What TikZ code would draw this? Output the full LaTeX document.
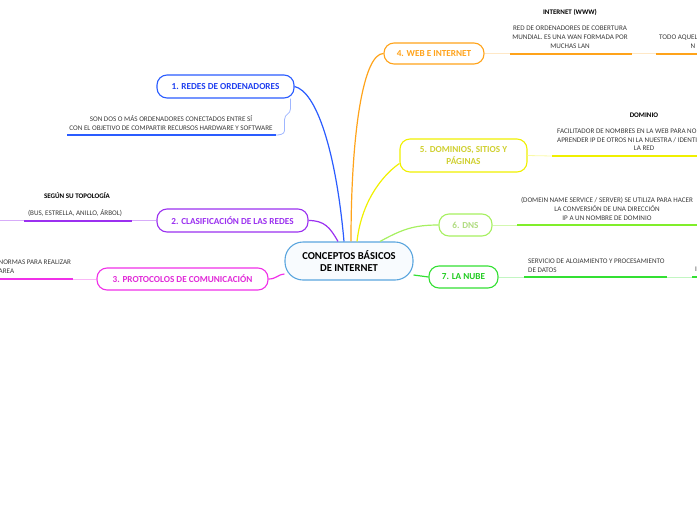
\documentclass[tikz,border=0pt]{standalone}
\usepackage{fontspec}
\setmainfont{Carlito}
\usepackage{xcolor}
\usepackage{tikz}
\definecolor{cCentro}{HTML}{5AA5DE}
\definecolor{cBlue}{HTML}{2A5CFF}
\definecolor{cBlueTxt}{HTML}{1F3FF0}
\definecolor{cPurple}{HTML}{9B30F0}
\definecolor{cMagenta}{HTML}{F030E8}
\definecolor{cMagentaTxt}{HTML}{E12AD8}
\definecolor{cOrange}{HTML}{FFA31A}
\definecolor{cYellow}{HTML}{F0F000}
\definecolor{cYellowTxt}{HTML}{D0D030}
\definecolor{cLime}{HTML}{A6F060}
\definecolor{cLimeTxt}{HTML}{B0DC80}
\definecolor{cLimeLine}{HTML}{80EE2A}
\definecolor{cGreen}{HTML}{33E033}
\definecolor{cGreenTxt}{HTML}{22CC22}
\definecolor{cNota}{HTML}{3A3A3A}

\begin{document}
\begin{tikzpicture}[x=1pt,y=-1pt,
    tema/.style={draw=#1,text=#1,line width=1.1pt,rounded corners=10pt,fill=white,
      font=\bfseries\fontsize{9.2}{11.5}\selectfont,inner sep=0pt,align=center},
    nota/.style={text=cNota,font=\fontsize{7.1}{9}\selectfont,inner sep=0pt,align=center},
    notab/.style={nota,font=\bfseries\fontsize{7}{9}\selectfont,text=black},
    rama/.style={line width=1.2pt,#1},
    fina/.style={line width=0.8pt,#1},
    linea/.style={line width=2pt,#1}]
        \useasboundingbox (0,0) rectangle (697,520);
        \node[draw=cCentro,fill=cCentro!4,line width=1.1pt,rounded corners=18pt,inner sep=0pt,align=center,
          minimum width=128pt,minimum height=38pt,font=\bfseries\fontsize{10.6}{12.5}\selectfont] (main) at (349,261) {CONCEPTOS BÁSICOS\\DE INTERNET};

        \node[tema=cBlue,text=cBlueTxt,minimum width=137pt,minimum height=23pt] (redes) at (225.5,86.5) {1. REDES DE ORDENADORES};
        \draw[rama=cBlue] ([xshift=-5pt]main.north) .. controls +(-8,-90) and +(22,5) .. (redes.east);
        \node[nota] (redesnota) at (171,123) {SON DOS O MÁS ORDENADORES CONECTADOS ENTRE SÍ\\CON EL OBJETIVO DE COMPARTIR RECURSOS HARDWARE Y SOFTWARE};
        \coordinate (redesA) at (67,135);
        \coordinate (redesB) at (276,135);
        \draw[fina=cBlue!45] ([xshift=-4pt]redes.south east) -- ++(0,10) .. controls +(0,6) and +(0,-6) .. ++(-6,11) -- ++(0,11) .. controls +(0,4) and +(3,0) .. (redesB);
        \draw[linea=cBlue] (redesA) -- (redesB);

        \node[tema=cPurple,minimum width=151pt,minimum height=23pt] (clasif) at (232.5,220.5) {2. CLASIFICACIÓN DE LAS REDES};
        \draw[rama=cPurple] ([xshift=-11pt]main.north) .. controls +(-8,-14) and +(16,0) .. (clasif.east);
        \node[notab] (topologia) at (77,196) {SEGÚN SU TOPOLOGÍA};
        \node[nota] (tipos) at (75,213) {(BUS, ESTRELLA, ANILLO, ÁRBOL)};
        \coordinate (clasifA) at (24,220.5);
        \coordinate (clasifB) at (132,220.5);
        \draw[fina=cPurple!40] (clasif.west) -- (0,220.5);
        \draw[linea=cPurple] (clasifA) -- (clasifB);

        \node[tema=cMagenta,text=cMagentaTxt,minimum width=171pt,minimum height=22pt] (protocolos) at (182.5,279) {3. PROTOCOLOS DE COMUNICACIÓN};
        \draw[rama=cMagenta] ([yshift=-13pt]main.west) .. controls +(-8,1) and +(8,0) .. (protocolos.east);
        \node[nota,anchor=west,align=left] (normas) at (-1.5,267) {NORMAS PARA REALIZAR\\AREA};
        \coordinate (protoA) at (0,279);
        \coordinate (protoB) at (73,279);
        \draw[fina=cMagenta!35] (protocolos.west) -- (protoA);
        \draw[linea=cMagenta] (protoA) -- (protoB);

        \node[tema=cOrange,minimum width=100pt,minimum height=21pt] (web) at (434,53.5) {4. WEB E INTERNET};
        \draw[rama=cOrange] ([xshift=2pt]main.north) .. controls +(0,-110) and +(-20,0) .. (web.west);
        \node[notab] (www) at (570,12) {INTERNET (WWW)};
        \node[nota] (wwwnota) at (570,37) {RED DE ORDENADORES DE COBERTURA\\MUNDIAL. ES UNA WAN FORMADA POR\\MUCHAS LAN};
        \node[nota,anchor=west] (todo) at (659,38) {TODO AQUEL};
        \node[nota,anchor=west] (todob) at (690.5,46) {N};
        \draw[fina=cOrange!25] (web.east) -- (697,53.5);
        \draw[linea=cOrange] (510,53.5) -- (632,53.5);
        \draw[linea=cOrange] (656,53.5) -- (697,53.5);

        \node[tema=cYellow,text=cYellowTxt,minimum width=127pt,minimum height=33pt] (dominios) at (463.5,155.5) {5. DOMINIOS, SITIOS Y\\PÁGINAS};
        \draw[rama=cYellow] ([xshift=8pt]main.north) .. controls +(5,-45) and +(-12,8) .. ([yshift=-8pt]dominios.west);
        \node[notab] (dominio) at (644,115) {DOMINIO};
        \node[nota,anchor=west,align=left] (dominionota) at (557,136) {FACILITADOR DE NOMBRES EN LA WEB PARA NO T\\APRENDER IP DE OTROS NI LA NUESTRA / IDENTID};
        \node[nota] (lared) at (644,148.5) {LA RED};
        \draw[fina=cYellow!35] (dominios.east) -- (552,156);
        \draw[linea=cYellow] (552,156) -- (697,156);

        \node[tema=cLime,text=cLimeTxt,minimum width=53pt,minimum height=22pt] (dns) at (465.5,225) {6. DNS};
        \draw[rama=cLime] ([xshift=31pt]main.north) .. controls +(22,-12) and +(-25,0) .. (dns.west);
        \node[nota] (dnsnota) at (607,209) {(DOMEIN NAME SERVICE / SERVER) SE UTILIZA PARA HACER\\LA CONVERSIÓN DE UNA DIRECCIÓN\\IP A UN NOMBRE DE DOMINIO};
        \draw[fina=cLime!50] (dns.east) -- (517,225);
        \draw[linea=cLimeLine] (517,225) -- (697,225);

        \node[tema=cGreen,text=cGreenTxt,minimum width=69pt,minimum height=22pt] (nube) at (463.5,277) {7. LA NUBE};
        \draw[rama=cGreen] ([yshift=-14pt]main.east) -- (nube.west);
        \node[nota,anchor=west,align=left] (nubenota) at (528,266) {SERVICIO DE ALOJAMIENTO Y PROCESAMIENTO\\DE DATOS};
        \node[nota,anchor=west] (nubeb) at (695,269.5) {I};
        \draw[fina=cGreen!30] (nube.east) -- (697,277);
        \draw[linea=cGreen] (524,277) -- (667,277);
        \draw[linea=cGreen] (692,277) -- (697,277);
\end{tikzpicture}
\end{document}
